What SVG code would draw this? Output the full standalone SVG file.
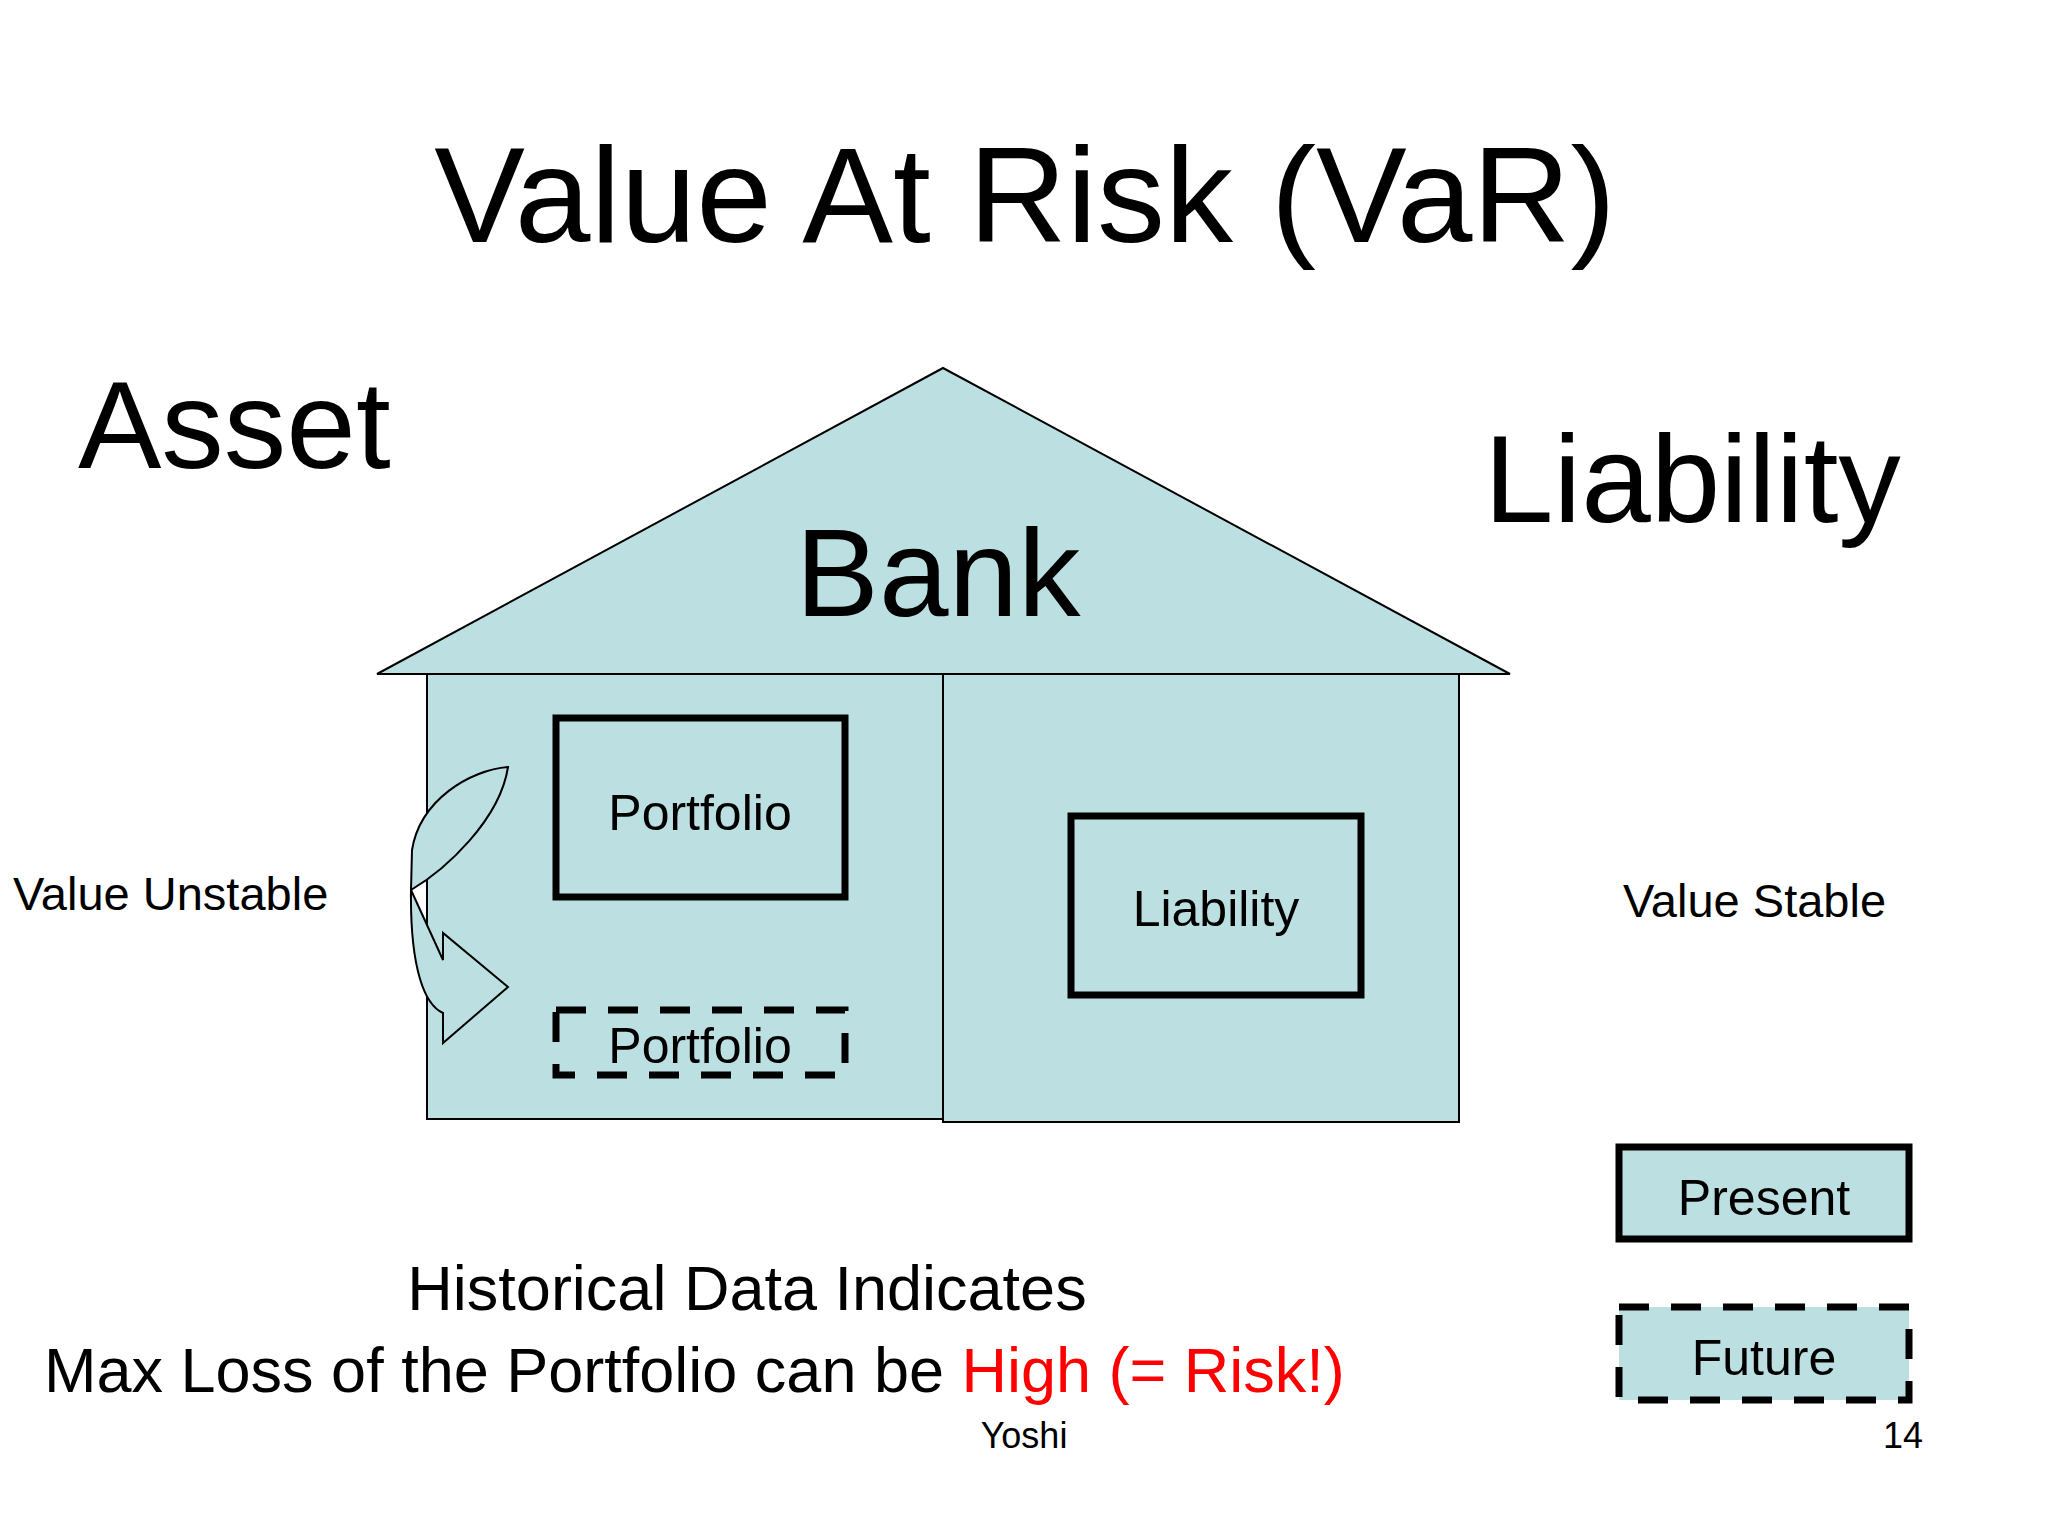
<svg xmlns="http://www.w3.org/2000/svg" width="2048" height="1536" viewBox="0 0 2048 1536">
<style>
text{font-family:"Liberation Sans",Arial,sans-serif;fill:#000}
.f{fill:#bce0e2;stroke:#000;stroke-width:2}
.b{fill:#bce0e2;stroke:#000;stroke-width:7}
.d{fill:none;stroke:#000;stroke-width:7;stroke-dasharray:30 22}
.c{text-anchor:middle}
</style>
<rect width="2048" height="1536" fill="#fff"/>
<text x="1025" y="242" class="c" font-size="136">Value At Risk (VaR)</text>
<text x="78" y="468" font-size="125">Asset</text>
<text x="1484" y="522" font-size="125">Liability</text>
<g id="bank">
<rect class="f" x="427" y="674" width="516" height="445"/>
<rect class="f" x="943" y="674" width="516" height="448"/>
<polygon class="f" points="943,368 377,674 1510,674"/>
<text x="938" y="616" class="c" font-size="125">Bank</text>
</g>
<g id="portfolio"><rect class="b" x="556" y="718" width="289" height="179"/><text x="700" y="830" class="c" font-size="50">Portfolio</text></g>
<g id="portfolio-future"><rect class="d" x="556" y="1010" width="289" height="65"/><text x="700" y="1063" class="c" font-size="50">Portfolio</text></g>
<g id="liability"><rect class="b" x="1071" y="816" width="290" height="179"/><text x="1216" y="926" class="c" font-size="50">Liability</text></g>
<g id="connectors">
<path class="f" d="M508,767 C470,770 420,800 412,850 L411,890 C445,870 500,820 508,767 Z"/>
<path class="f" d="M411,890 L443,960 L443,933 L508,987 L443,1043 L443,1013 C425,1005 410,970 411,890 Z"/>
</g>
<text x="13" y="910" font-size="47">Value Unstable</text>
<text x="1623" y="917" font-size="47">Value Stable</text>
<g id="present"><rect class="b" x="1619" y="1147" width="290" height="92"/><text x="1764" y="1215" class="c" font-size="50">Present</text></g>
<g id="future"><rect fill="#bce0e2" x="1619" y="1307" width="290" height="93"/><rect class="d" x="1619" y="1307" width="290" height="93"/><text x="1764" y="1375" class="c" font-size="50">Future</text></g>
<text x="747" y="1310" class="c" font-size="63">Historical Data Indicates</text>
<text x="44" y="1392" font-size="63">Max Loss of the Portfolio can be <tspan fill="#ff0000" style="fill:#f00">High (= Risk!)</tspan></text>
<text x="1024" y="1448" class="c" font-size="36">Yoshi</text>
<text x="1903" y="1448" class="c" font-size="36">14</text>
</svg>
